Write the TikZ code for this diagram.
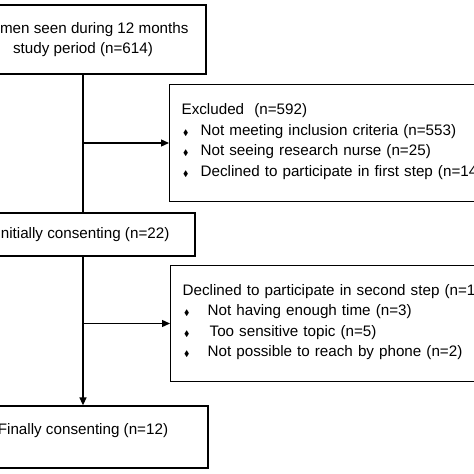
\documentclass[tikz,border=0pt]{standalone}
\usepackage{amssymb}
\usepackage{fontspec}
\setmainfont{Liberation Sans}
\usetikzlibrary{arrows.meta,positioning}
\newcommand{\itm}[2][19pt]{\makebox[#1][l]{\hspace{1.5pt}\footnotesize$\blacklozenge$}#2}
\newcommand{\lowstrut}{\rule[-6pt]{0pt}{6pt}}

\begin{document}
\begin{tikzpicture}[
 x=1pt,y=-1pt,
 font=\fontsize{15.2}{20.5}\selectfont,
 box/.style={draw,line width=1.3pt,align=center,inner sep=0pt},
 listbox/.style={draw,line width=1.3pt,anchor=west,align=left,inner xsep=12pt,
                 inner ysep=0pt,text width=400pt,minimum height=#1},
 arrow/.style={-{Triangle[length=8pt,width=7pt]},line width=1.3pt}
]
\useasboundingbox (0,0) rectangle (474,474);
\clip (0,0) rectangle (474,474);
\node[box,minimum width=246pt,minimum height=69pt] (seen) at (83,39.5) {Women seen during 12 months\\study period (n=614)};
\node[box,minimum width=224pt,minimum height=43pt] (init) at (83,234.5) {Initially consenting (n=22)};
\node[box,minimum width=250pt,text height=28.5pt,text depth=33.5pt] (final) at (83,437) {Finally consenting (n=12)};
\node[listbox=117pt] (excl) at (169,143) {Excluded~ (n=592)\\
  \itm{Not meeting inclusion criteria (n=553)}\\
  \itm{Not seeing research nurse (n=25)}\\
  \itm{Declined to participate in first step (n=14)}\lowstrut};
\node[listbox=116pt] (decl) at (170,323.5) {Declined to participate in second step (n=10)\\
  \itm[25pt]{Not having enough time (n=3)}\\
  \itm[27pt]{Too sensitive topic (n=5)}\\
  \itm[25pt]{Not possible to reach by phone (n=2)}\lowstrut};
\draw[line width=1.3pt] (seen) -- (init);
\draw[arrow] (init) -- (final);
\draw[arrow] (seen.south |- excl.west) -- (excl.west);
\draw[arrow] (seen.south |- decl.west) -- (decl.west);
\end{tikzpicture}
\end{document}
